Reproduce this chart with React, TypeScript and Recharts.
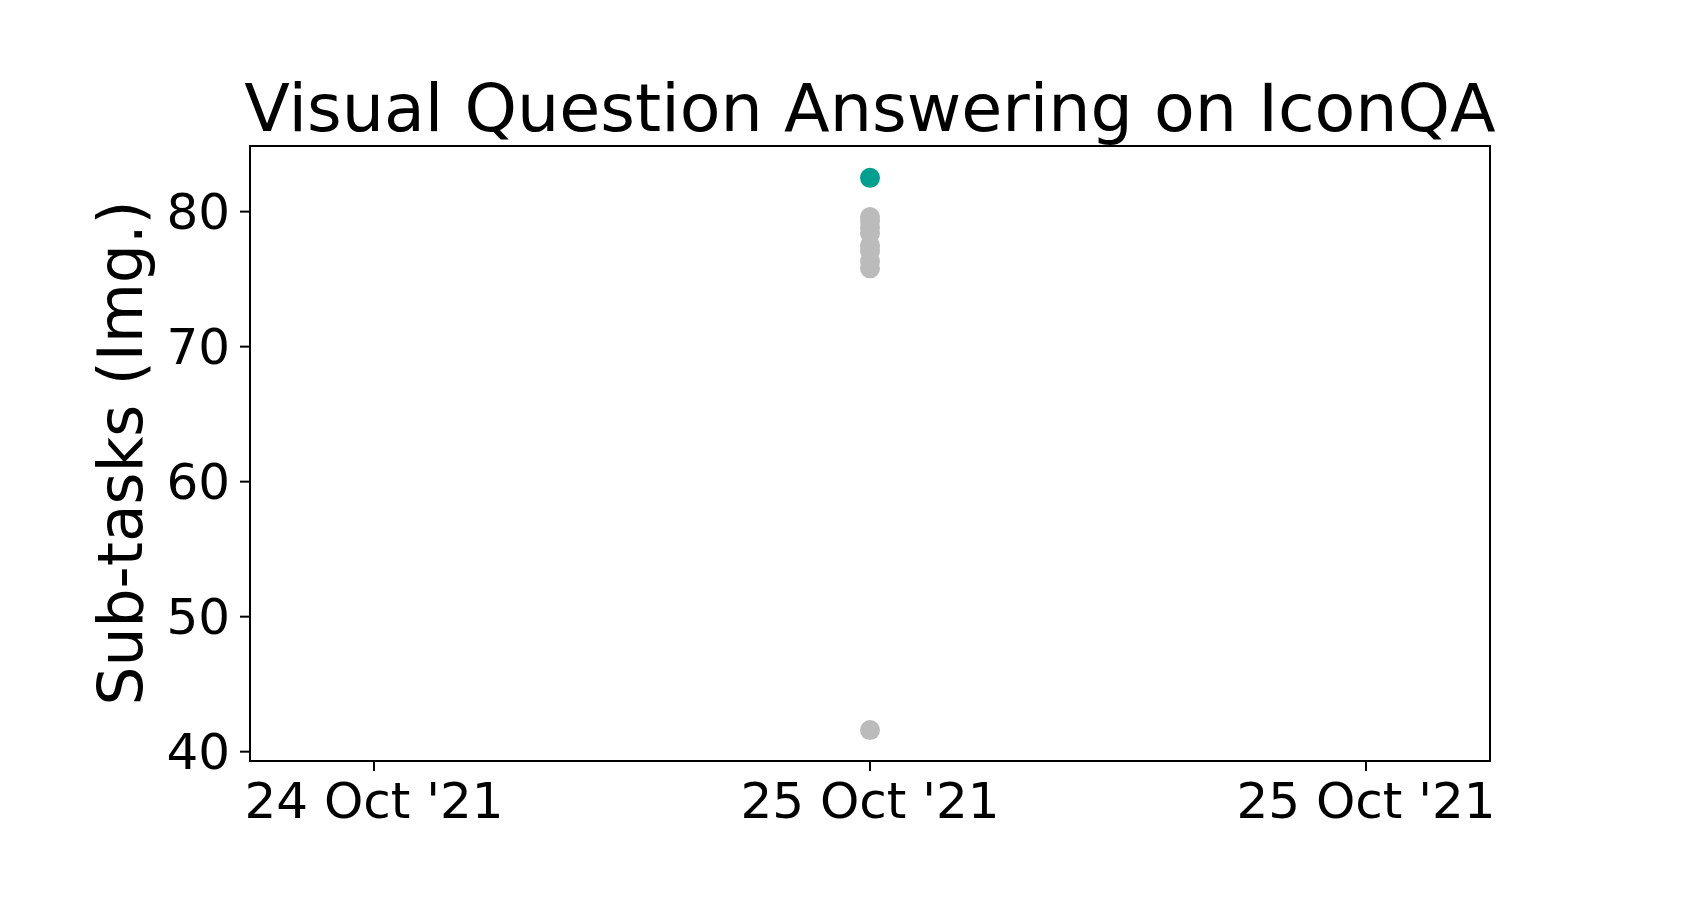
// Visual Question Answering on IconQA — scatter of sub-task scores by date
import React from 'react';
import { ScatterChart, Scatter, XAxis, YAxis, ReferenceArea } from 'recharts';

const xTickValues = [0, 1, 2];
const xTickLabels = ["24 Oct '21", "25 Oct '21", "25 Oct '21"];
const yTicks = [40, 50, 60, 70, 80];

// all entries sit on the middle date tick
const otherScores = [79.6, 79.3, 78.8, 78.4, 77.5, 77.1, 76.3, 75.8, 41.6];
const bestScores = [82.5];
const entryDate = 1;

const otherData = otherScores.map(v => ({ x: entryDate, y: v }));
const bestData = bestScores.map(v => ({ x: entryDate, y: v }));

const X_DOMAIN: [number, number] = [-0.25, 2.25];
const Y_DOMAIN: [number, number] = [39.31, 84.86];
const FONT = '"DejaVu Sans", sans-serif';

const dot = (fill: string) => (props: any) => (
  <circle cx={props.cx} cy={props.cy} r={10} fill={fill} />
);

export default function App() {
  return (
    <div style={{ position: 'relative', width: 1700, height: 900, background: '#fff', fontFamily: FONT }}>
      <style>{`body{margin:0}`}</style>
      <div
        style={{
          position: 'absolute', left: 170, width: 1400, top: 68, textAlign: 'center',
          fontSize: 66.7, lineHeight: '80px', color: '#000', whiteSpace: 'nowrap',
        }}
      >
        Visual Question Answering on IconQA
      </div>
      <div
        style={{
          position: 'absolute', left: 121, top: 453, transform: 'translate(-50%, -50%) rotate(-90deg)',
          fontSize: 61.5, lineHeight: '70px', whiteSpace: 'nowrap', color: '#000',
        }}
      >
        Sub-tasks (Img.)
      </div>
      <ScatterChart
        width={1700}
        height={900}
        margin={{ top: 146, right: 210, bottom: 0, left: 0 }}
        style={{ position: 'absolute', left: 0, top: 0 }}
      >
        <XAxis
          type="number"
          dataKey="x"
          domain={X_DOMAIN}
          ticks={xTickValues}
          tickFormatter={(v: number) => xTickLabels[xTickValues.indexOf(v)]}
          height={139}
          tickSize={10}
          tickMargin={11}
          axisLine={{ stroke: '#000', strokeWidth: 2 }}
          tickLine={{ stroke: '#000', strokeWidth: 2 }}
          tick={{ fill: '#000', fontSize: 50, fontFamily: FONT }}
          allowDataOverflow
        />
        <YAxis
          type="number"
          dataKey="y"
          domain={Y_DOMAIN}
          ticks={yTicks}
          width={250}
          tickSize={10}
          tickMargin={10}
          axisLine={{ stroke: '#000', strokeWidth: 2 }}
          tickLine={{ stroke: '#000', strokeWidth: 2 }}
          tick={{ fill: '#000', fontSize: 50, fontFamily: FONT }}
          allowDataOverflow
        />
        <ReferenceArea
          x1={X_DOMAIN[0]}
          x2={X_DOMAIN[1]}
          y1={Y_DOMAIN[0]}
          y2={Y_DOMAIN[1]}
          fill="none"
          fillOpacity={0}
          stroke="#000"
          strokeWidth={2}
          ifOverflow="extendDomain"
        />
        <Scatter data={otherData} shape={dot('#bbbbbb')} isAnimationActive={false} />
        <Scatter data={bestData} shape={dot('#00a090')} isAnimationActive={false} />
      </ScatterChart>
    </div>
  );
}
